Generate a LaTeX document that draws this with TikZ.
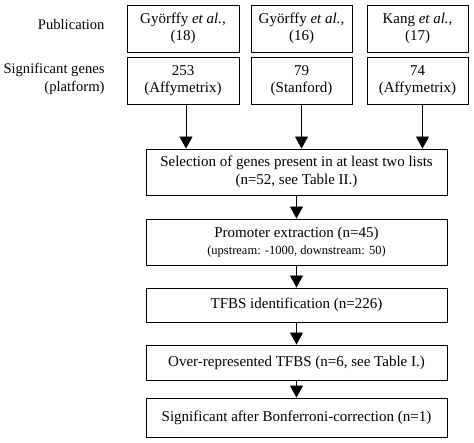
\documentclass[tikz,border=0pt]{standalone}
\usepackage{fontspec}
\setmainfont{Liberation Serif}
\usetikzlibrary{arrows.meta}
\begin{document}
\begin{tikzpicture}[x=1pt,y=-1pt,
  box/.style={draw,line width=0.9pt,inner sep=0pt,align=center,font=\fontsize{15}{17.5}\selectfont},
  lab/.style={align=right,anchor=east,font=\fontsize{14.6}{17.5}\selectfont},
  arr/.style={line width=0.8pt,-{Triangle[width=13pt,length=12pt]}}]
\useasboundingbox (0,0) rectangle (474,442);
\node[box,minimum width=112pt,minimum height=47pt] (a1) at (183,28.5) {Györffy \textit{et al.},\\(18)};
\node[box,minimum width=101pt,minimum height=47pt] (a2) at (301.5,28.5) {Györffy \textit{et al.},\\(16)};
\node[box,minimum width=101pt,minimum height=47pt] (a3) at (417.5,28.5) {Kang \textit{et al.},\\(17)};
\node[box,minimum width=112pt,minimum height=47pt] (b1) at (183,80.5) {253\\(Affymetrix)};
\node[box,minimum width=101pt,minimum height=47pt] (b2) at (301.5,80.5) {79\\(Stanford)};
\node[box,minimum width=101pt,minimum height=47pt] (b3) at (417.5,80.5) {74\\(Affymetrix)};
\node[lab] (l1) at (108,25) {Publication};
\node[lab] (l2) at (108,79) {Significant genes\\(platform)};
\node[box,minimum width=301pt,minimum height=46pt] (s) at (296.5,172) {Selection of genes present in at least two lists\\(n=52, see Table II.)};
\node[box,minimum width=301pt,minimum height=46pt] (p) at (296.5,242) {Promoter extraction (n=45)\\{\fontsize{12.5}{15}\selectfont (upstream: -1000, downstream: 50)}};
\node[box,minimum width=301pt,minimum height=34pt] (t) at (296.5,305) {TFBS identification (n=226)};
\node[box,minimum width=301pt,minimum height=35pt] (o) at (296.5,362.5) {Over-represented TFBS (n=6, see Table I.)};
\node[box,minimum width=301pt,minimum height=39pt] (f) at (296.5,417.5) {Significant after Bonferroni-correction (n=1)};
\draw[arr] ([xshift=3pt]b1.south) -- ([xshift=3pt]b1.south |- s.north);
\draw[arr] (b2.south) -- (b2.south |- s.north);
\draw[arr] ([xshift=5pt]b3.south) -- ([xshift=5pt]b3.south |- s.north);
\draw[arr] (s) -- (p);
\draw[arr] (p) -- (t);
\draw[arr] (t) -- (o);
\draw[arr] (o) -- (f);
\end{tikzpicture}
\end{document}
